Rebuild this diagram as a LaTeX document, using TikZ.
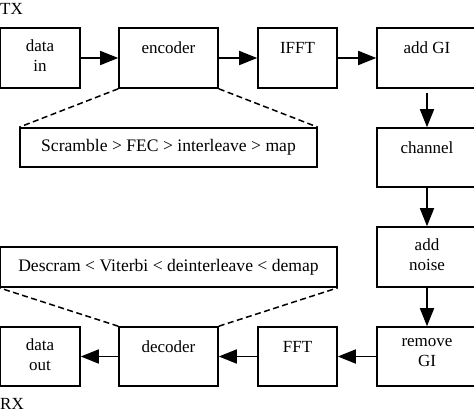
\documentclass[tikz,border=0pt]{standalone}
\usepackage{fontspec}
\setmainfont{Liberation Serif}
\usetikzlibrary{arrows.meta}
\begin{document}
\begin{tikzpicture}[x=1pt,y=1pt,
  txt/.style={font=\fontsize{17}{19.5}\selectfont},
  box/.style={draw, line width=1.6pt, inner sep=0pt, minimum height=60pt},
  lab/.style={txt, anchor=north, yshift=-12.35pt, align=center, inner sep=0pt, execute at begin node=\strut},
  chain/.style={draw, line width=1.6pt, inner sep=0pt, font=\fontsize{17.6}{20}\selectfont},
  arr/.style={line width=1.7pt, -{Triangle[length=18pt,width=14pt]}},
  dsh/.style={line width=1.5pt, dash pattern=on 6pt off 3.5pt}]
\clip (0,0) rectangle (474,-413);
% TX chain
\node[box, minimum width=80pt, label={[lab]north:data\\in}] (din) at (40,-58) {};
\node[box, minimum width=99pt, label={[lab]north:encoder}] (enc) at (168.5,-58) {};
\node[box, minimum width=79pt, label={[lab]north:IFFT}] (ifft) at (297.5,-58) {};
\node[box, minimum width=100pt, label={[lab]north:add GI}] (agi) at (427,-58) {};
\node[box, minimum width=100pt, minimum height=59pt, label={[lab]north:channel}] (chan) at (427,-157.5) {};
\node[box, minimum width=100pt, label={[lab]north:add\\noise}] (noise) at (427,-257) {};
\node[box, minimum width=100pt, minimum height=59pt, label={[lab]north:remove\\GI}] (rgi) at (427,-356.5) {};
\node[box, minimum width=79pt, minimum height=59pt, label={[lab]north:FFT}] (fft) at (297.5,-356.5) {};
\node[box, minimum width=99pt, minimum height=59pt, label={[lab]north:decoder}] (dec) at (168.5,-356.5) {};
\node[box, minimum width=80pt, minimum height=59pt, label={[lab]north:data\\out}] (dout) at (40,-356.5) {};
% detail boxes
\node[chain, minimum width=297pt, minimum height=39pt] (scr) at (168.5,-147.5) {Scramble > FEC > interleave > map};
\node[chain, minimum width=337pt, minimum height=40pt] (des) at (168.5,-267) {Descram < Viterbi < deinterleave < demap};
% labels
\node[txt, anchor=base west, inner sep=0pt] (tx) at (0,-14) {TX};
\node[txt, anchor=base west, inner sep=0pt] (rx) at (0,-409) {RX};
% arrows
\draw[arr] (din) -- (enc);
\draw[arr] (enc) -- (ifft);
\draw[arr] (ifft) -- (agi);
\draw[arr, shorten <=4pt] (agi) -- (chan);
\draw[arr] (chan) -- (noise);
\draw[arr] (noise) -- (rgi);
\draw[arr] (rgi) -- (fft);
\draw[arr] (fft) -- (dec);
\draw[arr] (dec) -- (dout);
% dashed
\draw[dsh] (enc.south west) -- (scr.north west);
\draw[dsh] (enc.south east) -- (scr.north east);
\draw[dsh] (dec.north west) -- (des.south west);
\draw[dsh] (dec.north east) -- (des.south east);
\end{tikzpicture}
\end{document}
